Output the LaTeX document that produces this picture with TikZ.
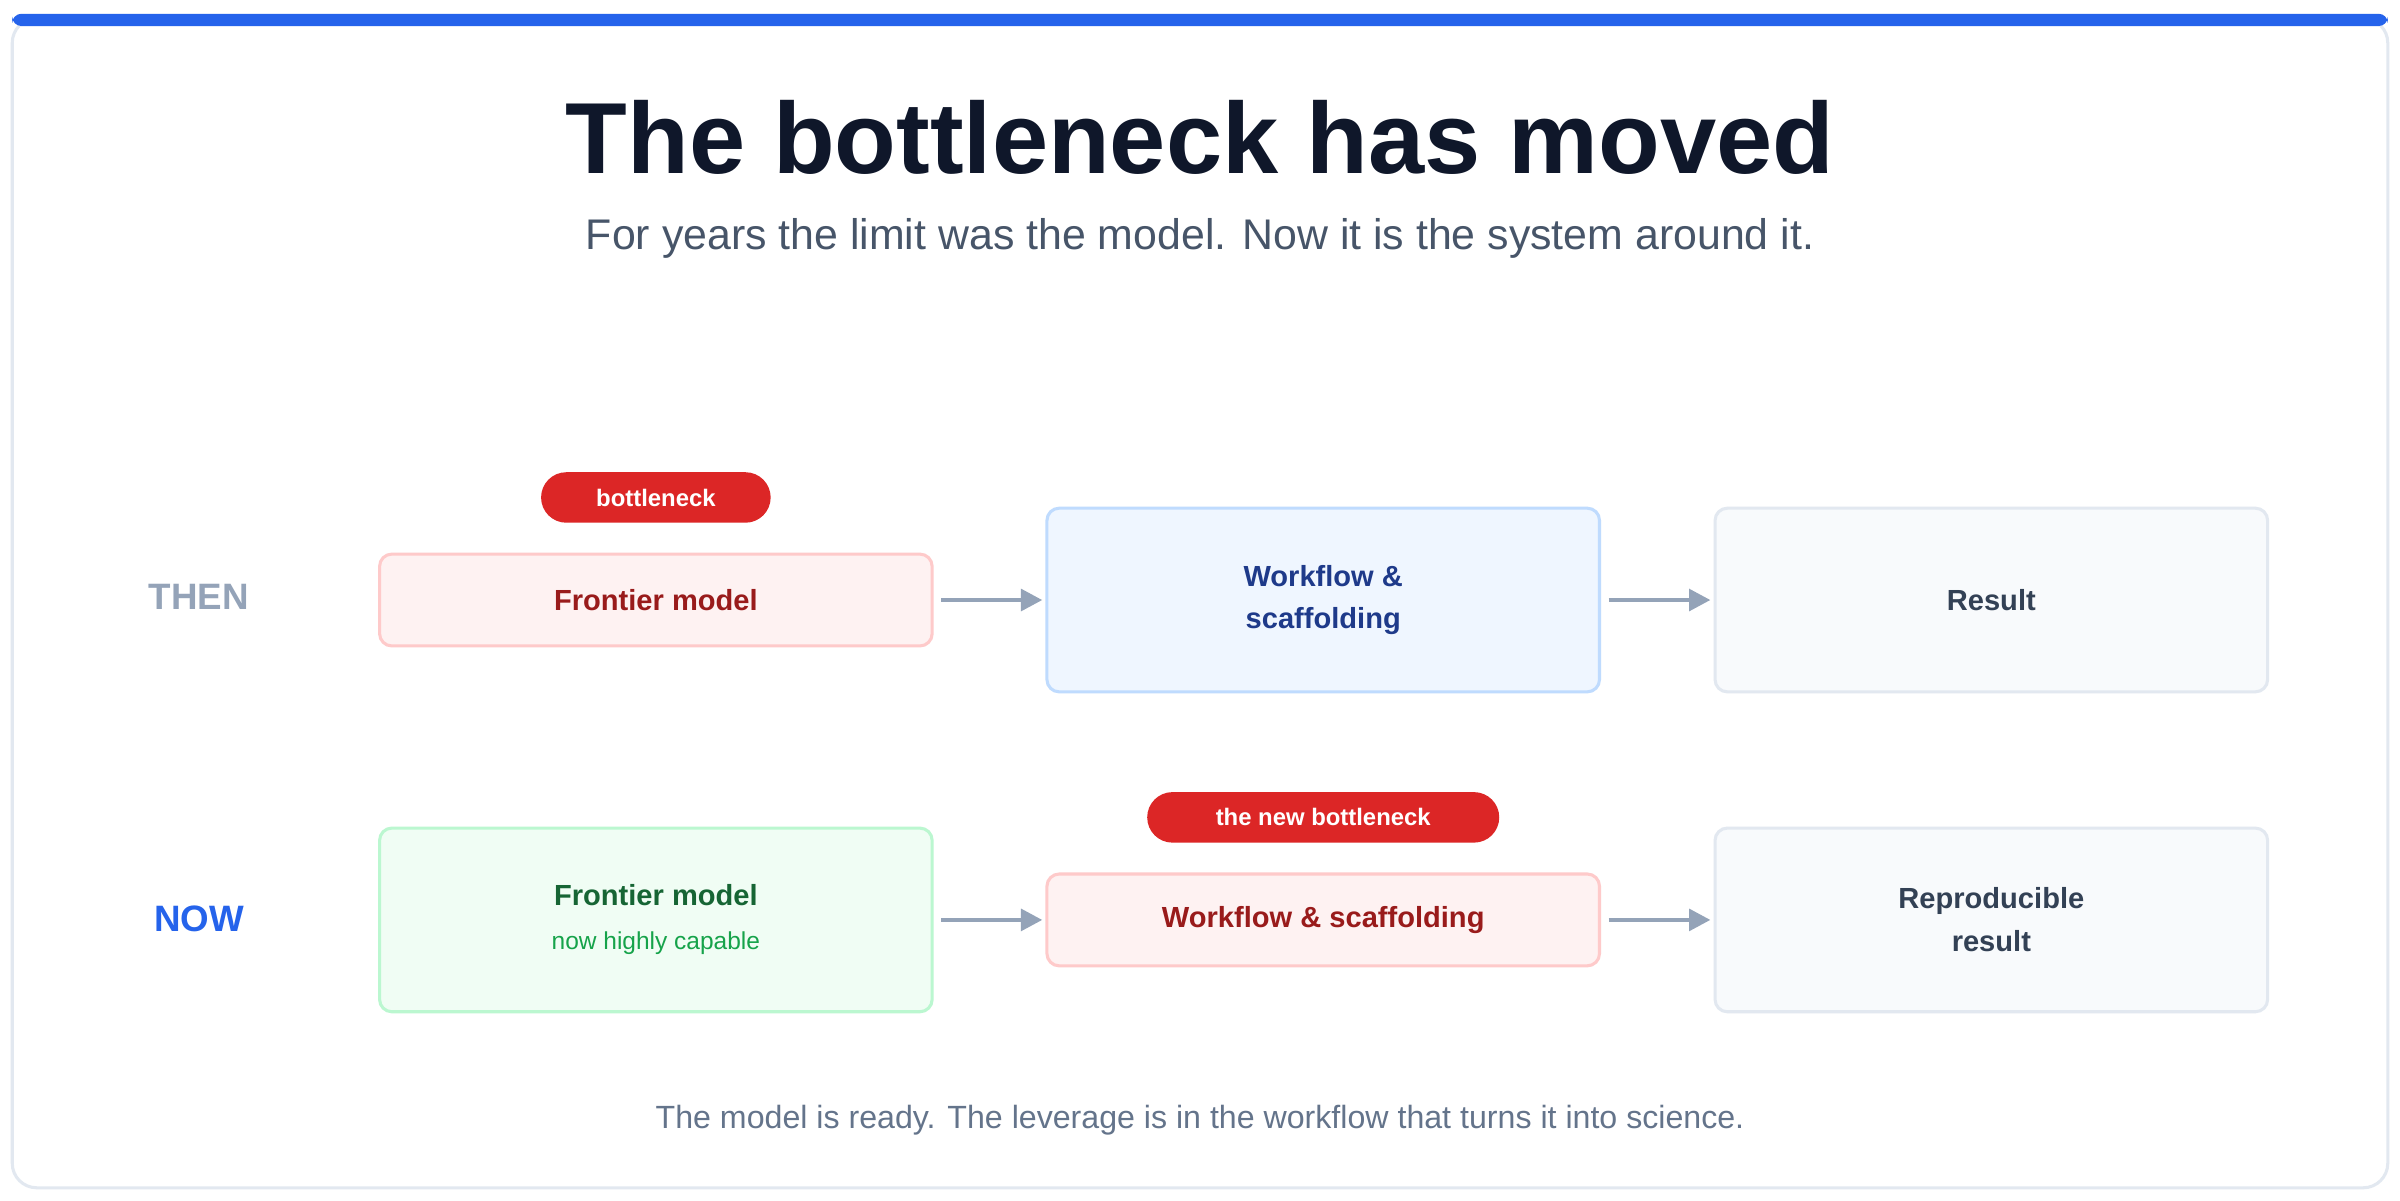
\documentclass[tikz,border=0pt]{standalone}
\usepackage{fontspec}
\setmainfont{Liberation Sans}
\usetikzlibrary{arrows.meta}
\definecolor{blueT}{HTML}{2563EB}
\definecolor{slate}{HTML}{94A3B8}
\definecolor{dark}{HTML}{0F172A}
\definecolor{sub}{HTML}{475569}
\definecolor{foot}{HTML}{64748B}
\definecolor{redF}{HTML}{FEF2F2}\definecolor{redB}{HTML}{FECACA}\definecolor{redT}{HTML}{991B1B}
\definecolor{bluF}{HTML}{EFF6FF}\definecolor{bluB}{HTML}{BFDBFE}\definecolor{bluT}{HTML}{1E3A8A}
\definecolor{grF}{HTML}{F8FAFC}\definecolor{grB}{HTML}{E2E8F0}\definecolor{grT}{HTML}{334155}
\definecolor{gnF}{HTML}{F0FDF4}\definecolor{gnB}{HTML}{BBF7D0}\definecolor{gnT}{HTML}{166534}\definecolor{gnS}{HTML}{16A34A}
\definecolor{badge}{HTML}{DC2626}
\tikzset{
 box/.style={draw,line width=1pt,rounded corners=4pt,minimum width=180.5pt,align=center,font=\fontsize{9.5}{14}\selectfont\bfseries},
 redbox/.style={box,fill=redF,draw=redB,text=redT},
 blubox/.style={box,fill=bluF,draw=bluB,text=bluT},
 grbox/.style={box,fill=grF,draw=grB,text=grT},
 gnbox/.style={box,fill=gnF,draw=gnB,text=gnT},
 badgebox/.style={fill=badge,text=white,rounded corners=8.25pt,minimum height=16.5pt,font=\fontsize{7.8}{9}\selectfont\bfseries},
 rowlbl/.style={font=\fontsize{12}{14}\selectfont\bfseries},
 arr/.style={draw=slate,line width=1.5pt,-{Triangle[length=7pt,width=7pt]},shorten <=2.5pt,shorten >=1pt}
}
\begin{document}
\begin{tikzpicture}[x=0.5pt,y=-0.5pt]
\useasboundingbox[fill=white] (0,0) rectangle (1568,784);
\draw[grB,line width=1pt,rounded corners=8pt] (8,12) rectangle (1560,776);
\fill[blueT,rounded corners=3pt] (8,9) rectangle (1560,17);
\node[text=dark,font=\fontsize{33}{36}\selectfont\bfseries] (title) at (784,90) {The bottleneck has moved};
\node[text=sub,font=\fontsize{14}{16}\selectfont] (subt) at (784,156) {For years the limit was the model. Now it is the system around it.};
\node[rowlbl,text=slate] (then) at (130,390) {THEN};
\node[rowlbl,text=blueT] (now) at (130,600) {NOW};
\node[redbox,minimum height=30pt] (f1) at (428.5,392) {Frontier model};
\node[blubox,minimum height=60pt] (w1) at (864.5,392) {Workflow \&\\scaffolding};
\node[grbox,minimum height=60pt] (r1) at (1301,392) {Result};
\node[badgebox,minimum width=75pt] (b1) at (428.5,325) {bottleneck};
\node[gnbox,minimum height=60pt] (f2) at (428.5,601) {};
\node[text=gnT,font=\fontsize{9.5}{12}\selectfont\bfseries] (f2a) at (428.5,585) {Frontier model};
\node[text=gnS,font=\fontsize{8}{10}\selectfont] (f2b) at (428.5,616) {now highly capable};
\node[redbox,minimum height=30pt] (w2) at (864.5,601) {Workflow \& scaffolding};
\node[grbox,minimum height=60pt] (r2) at (1301,601) {Reproducible\\result};
\node[badgebox,minimum width=115pt] (b2) at (864.5,534) {the new bottleneck};
\draw[arr] (f1.east) -- (w1.west);
\draw[arr] (w1.east) -- (r1.west);
\draw[arr] (f2.east) -- (w2.west);
\draw[arr] (w2.east) -- (r2.west);
\node[text=foot,font=\fontsize{10.5}{12}\selectfont] (ft) at (784,732) {The model is ready. The leverage is in the workflow that turns it into science.};
\end{tikzpicture}
\end{document}
